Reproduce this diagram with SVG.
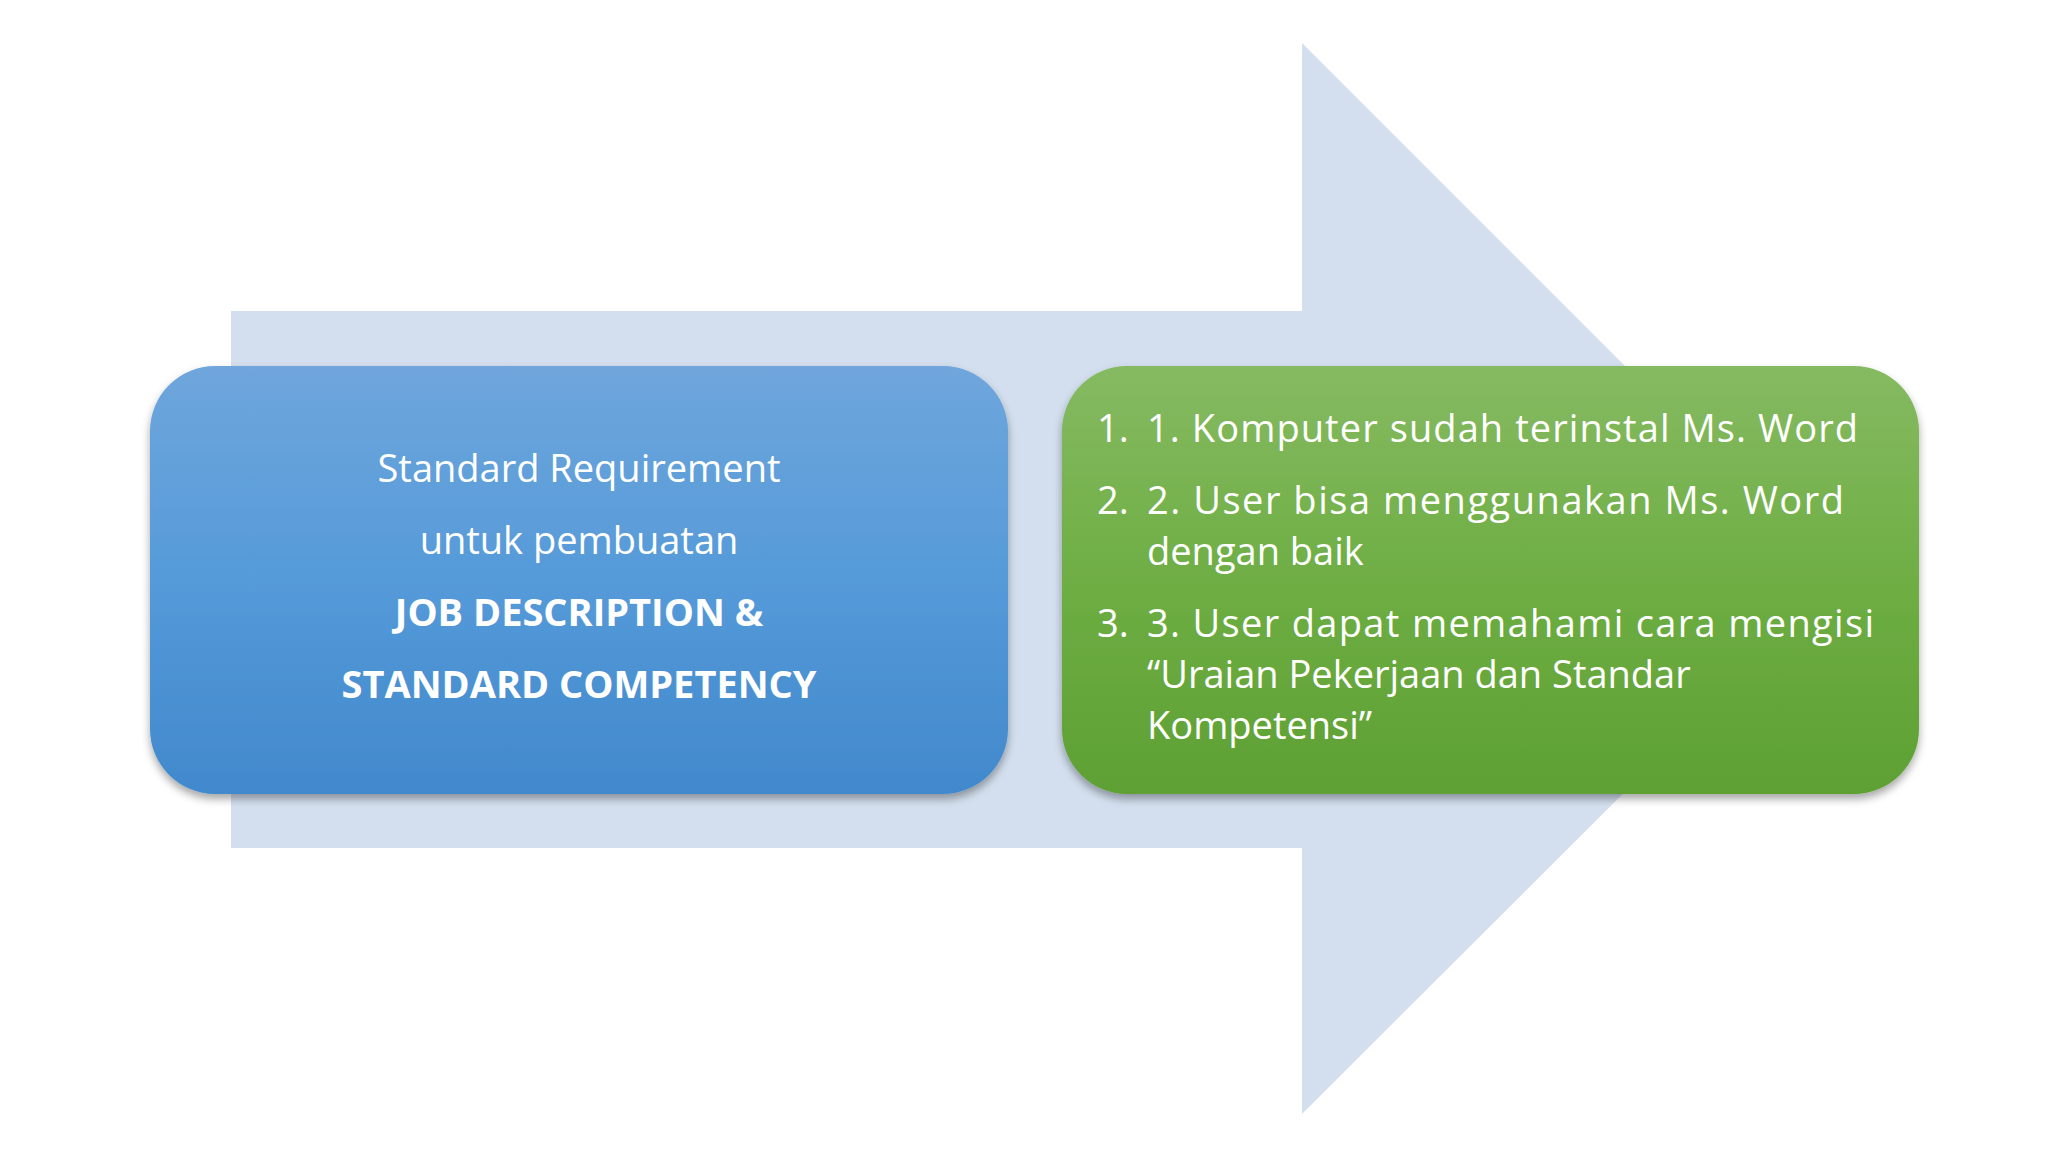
<svg xmlns="http://www.w3.org/2000/svg" width="2048" height="1152" viewBox="0 0 2048 1152">
<defs>
<linearGradient id="gb" x1="0" y1="0" x2="0" y2="1"><stop offset="0" stop-color="#6fa6dc"/><stop offset="0.5" stop-color="#559ad9"/><stop offset="1" stop-color="#4189cc"/></linearGradient>
<linearGradient id="gg" x1="0" y1="0" x2="0" y2="1"><stop offset="0" stop-color="#86ba62"/><stop offset="0.5" stop-color="#6eae44"/><stop offset="1" stop-color="#5ea033"/></linearGradient>
<filter id="sh" x="-10%" y="-10%" width="120%" height="125%"><feDropShadow dx="0" dy="5" stdDeviation="4" flood-color="#000" flood-opacity="0.35"/></filter>
</defs>
<style>
text{font-family:"Open Sans","Noto Sans",sans-serif;fill:#fff;font-size:38px}
.c{text-anchor:middle}
.b{font-weight:bold}
</style>
<rect width="2048" height="1152" fill="#fff"/>
<g id="arrow"><polygon points="231,311 1302,311 1302,43 1838,579 1302,1114 1302,848 231,848" fill="#d3dfee"/></g>
<g id="left">
<rect x="150" y="366" width="858" height="428" rx="65" fill="url(#gb)" filter="url(#sh)"/>
<text class="c" x="579" y="482">Standard Requirement</text>
<text class="c" x="579" y="554">untuk pembuatan</text>
<text class="c b" x="579" y="626">JOB DESCRIPTION &amp;</text>
<text class="c b" x="579" y="698">STANDARD COMPETENCY</text>
</g>
<g id="right">
<rect x="1062" y="366" width="857" height="428" rx="65" fill="url(#gg)" filter="url(#sh)"/>
<text x="1097" y="442">1.</text><text x="1147" y="442" textLength="711">1. Komputer sudah terinstal Ms. Word</text>
<text x="1097" y="514">2.</text><text x="1147" y="514" textLength="697">2. User bisa menggunakan Ms. Word</text>
<text x="1147" y="565">dengan baik</text>
<text x="1097" y="637">3.</text><text x="1147" y="637" textLength="727">3. User dapat memahami cara mengisi</text>
<text x="1147" y="688">“Uraian Pekerjaan dan Standar</text>
<text x="1147" y="739">Kompetensi”</text>
</g>
</svg>
